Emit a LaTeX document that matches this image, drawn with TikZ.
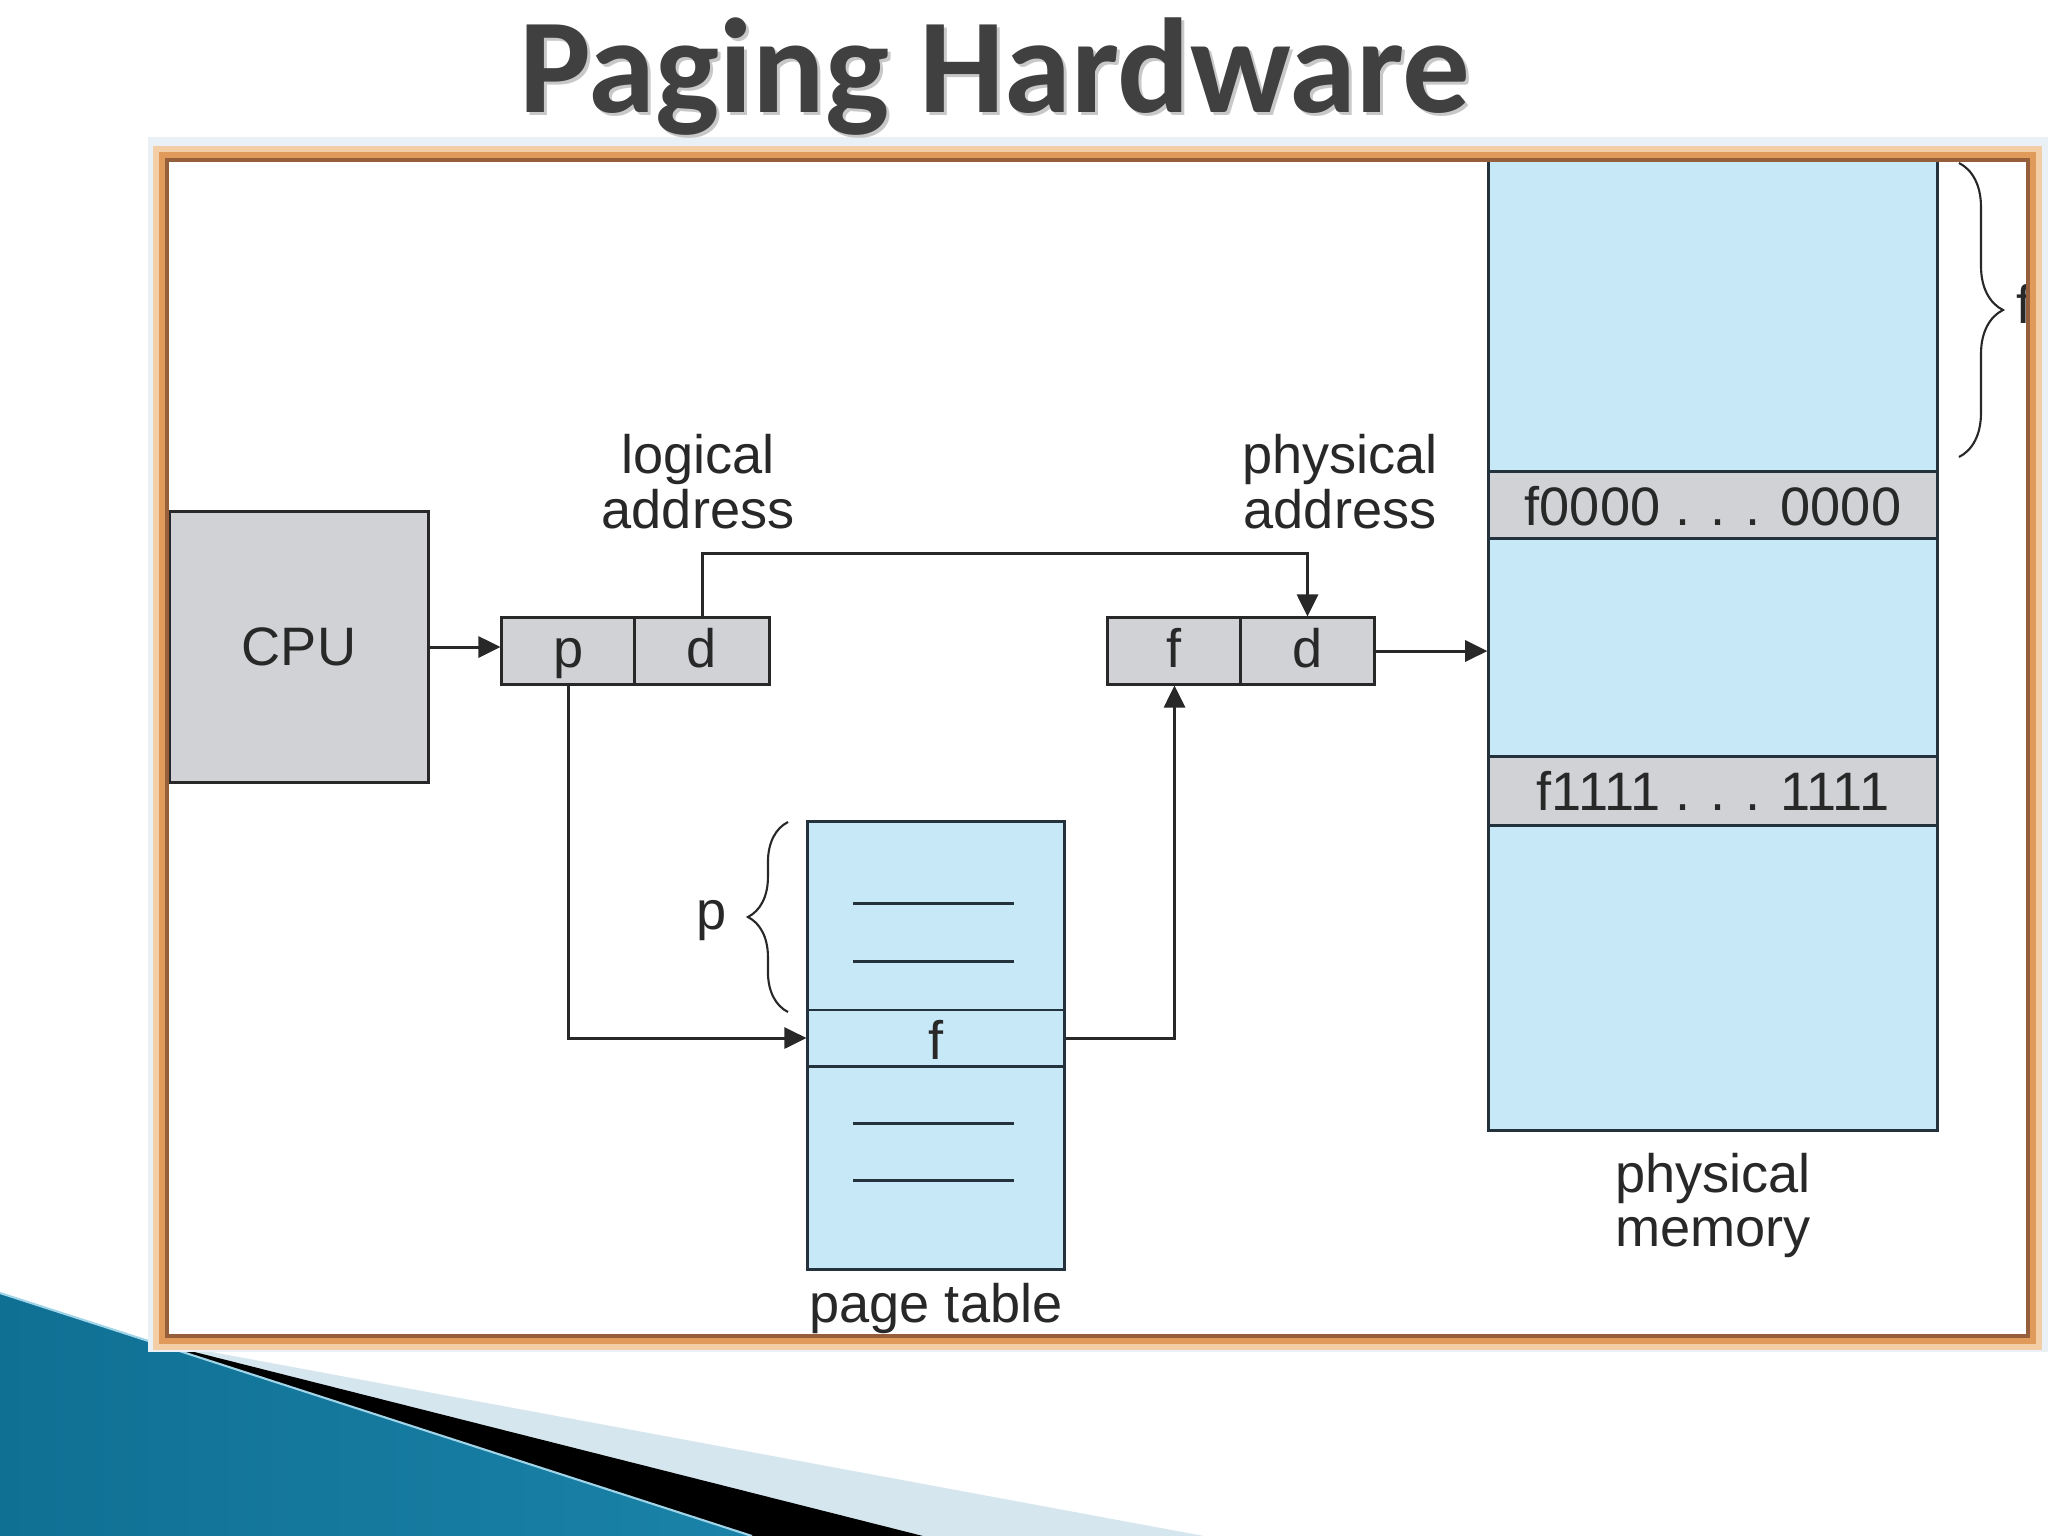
\documentclass[tikz,border=0pt]{standalone}
\usepackage{fontspec}
\setmainfont{Liberation Sans}
\newfontfamily\titlefont{Carlito}
\usetikzlibrary{arrows.meta,decorations.pathreplacing}
\definecolor{bluef}{RGB}{198,232,247}
\definecolor{grayf}{RGB}{208,210,214}
\definecolor{linec}{RGB}{40,40,40}
\definecolor{linedark}{RGB}{35,50,60}
\definecolor{textc}{RGB}{40,40,40}
\definecolor{titlec}{RGB}{64,64,64}
\definecolor{titlesh}{RGB}{200,200,200}
\definecolor{panelc}{RGB}{233,241,246}
\definecolor{frameA}{RGB}{243,205,165}
\definecolor{frameB}{RGB}{224,155,90}
\definecolor{frameC}{RGB}{150,95,60}
\definecolor{tealA}{RGB}{16,112,148}
\definecolor{tealB}{RGB}{76,176,212}
\definecolor{tealC}{RGB}{26,130,168}
\definecolor{paleblue}{RGB}{213,230,238}
\definecolor{hilite}{RGB}{160,212,232}
\newcommand{\diagfont}{\fontsize{15.4}{15.4}\selectfont}
\tikzset{
  graybox/.style={draw=linec, fill=grayf, line width=0.85pt, inner sep=0pt},
  bluebox/.style={draw=linedark, fill=bluef, line width=0.85pt, inner sep=0pt},
  conn/.style={draw=linec, line width=0.85pt},
  arr/.style={conn, -{Triangle[length=6.3pt,width=6pt]}},
  txt/.style={font=\diagfont, text=textc, inner sep=0pt},
  brc/.style={draw=linec, line width=0.6pt, decorate},
  entry/.style={draw=linedark, line width=0.85pt},
}
\begin{document}
\begin{tikzpicture}[x=0.01cm,y=-0.01cm]
\useasboundingbox (0,0) rectangle (2048,1536);
\fill[white] (0,0) rectangle (2048,1536);
% slide decoration
\fill[paleblue] (147,1340) -- (1204,1536) -- (0,1536) -- (0,1340) -- cycle;
\fill[black] (147,1340) -- (923,1536) -- (752,1536) -- cycle;
\shade[left color=tealA, middle color=tealB, right color=tealC] (0,1293) -- (752,1536) -- (0,1536) -- cycle;
\draw[hilite, line width=0.6pt] (0,1293) -- (752,1536);
% panel and frame
\fill[panelc] (148,137) rectangle (2048,1352);
\fill[white] (168,161) rectangle (2027,1335);
% title
\node[font=\titlefont\bfseries\fontsize{38.4}{40}\selectfont, text=titlesh, anchor=base, inner sep=0pt] (titlesh) at (998,115) {Paging Hardware};
\node[font=\titlefont\bfseries\fontsize{38.4}{40}\selectfont, text=titlec, anchor=base, inner sep=0pt] (title) at (995,112) {Paging Hardware};
% CPU
\node[graybox, minimum width=2.58cm, minimum height=2.70cm, font=\diagfont, text=textc] (cpu) at (299,647) {CPU};
% logical address
\node[graybox, minimum width=1.33cm, minimum height=0.66cm] (lp) at (568.5,651) {};
\node[graybox, minimum width=1.34cm, minimum height=0.66cm] (ld) at (702,651) {};
\node[txt, anchor=base] (lpt) at (568.5,667) {p};
\node[txt, anchor=base] (ldt) at (702,667) {d};
\node[txt, anchor=base] (la1) at (698,473) {logical};
\node[txt, anchor=base] (la2) at (698,528) {address};
% physical address
\node[graybox, minimum width=1.33cm, minimum height=0.66cm] (pf) at (1174.5,651) {};
\node[graybox, minimum width=1.33cm, minimum height=0.66cm] (pd) at (1307.5,651) {};
\node[txt, anchor=base] (pft) at (1174.5,667) {f};
\node[txt, anchor=base] (pdt) at (1307.5,667) {d};
\node[txt, anchor=base] (pa1) at (1340,473) {physical};
\node[txt, anchor=base] (pa2) at (1340,528) {address};
% page table
\node[bluebox, minimum width=2.56cm, minimum height=4.47cm] (pt) at (936,1045.5) {};
\node[bluebox, minimum width=2.56cm, minimum height=0.56cm] (ptf) at (936,1038) {};
\node[txt, anchor=base] (ptft) at (936,1059) {f};
\draw[entry] (853,903) -- (1014,903);
\draw[entry] (853,961) -- (1014,961);
\draw[entry] (853,1123) -- (1014,1123);
\draw[entry] (853,1180) -- (1014,1180);
\node[txt, anchor=base] (ptl) at (936,1322) {page table};
\draw[brc, decoration={brace, amplitude=11.4pt}] (788,1012) -- (788,822);
\node[txt, anchor=base] (pbl) at (712,929) {p};
% physical memory
\node[bluebox, minimum width=4.48cm, minimum height=9.70cm] (mem) at (1713,645) {};
\node[graybox, draw=linedark, minimum width=4.48cm, minimum height=0.66cm] (b0) at (1713,505) {};
\node[graybox, draw=linedark, minimum width=4.48cm, minimum height=0.68cm] (b1) at (1713,791) {};
\node[txt, anchor=base] (b0t) at (1713,525) {f0000 . . . 0000};
\node[txt, anchor=base] (b1t) at (1713,810) {f1111 . . . 1111};
\node[txt, anchor=base] (pm1) at (1713,1192) {physical};
\node[txt, anchor=base] (pm2) at (1713,1246) {memory};
\draw[brc, decoration={brace, amplitude=12.5pt}] (1959,163) -- (1959,457);
\node[txt, anchor=base west] (fbl) at (2016,323) {f};
% connectors
\coordinate (dtop) at (0,553);
\draw[arr] (cpu.east) -- (cpu.east -| lp.west);
\draw[arr] (ld.north) -- (ld.north |- dtop) -| (pd.north);
\draw[arr] (pd.east) -- (pd.east -| mem.west);
\draw[arr] (lp.south) |- (ptf.west);
\draw[arr] (ptf.east) -| (pf.south);
% frame
\draw[frameA, line width=4.5pt] (161,154) rectangle (2034,1342);
\draw[frameB, line width=2.4pt] (163,156) rectangle (2032,1340);
\draw[frameC, line width=1.0pt] (167,160) rectangle (2028,1336);
\end{tikzpicture}
\end{document}
